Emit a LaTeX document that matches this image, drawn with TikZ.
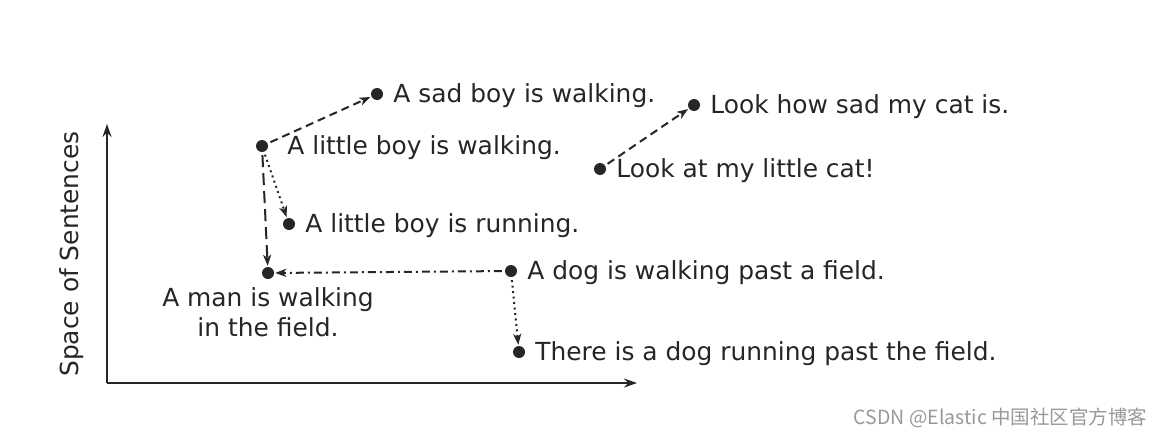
\documentclass[tikz,border=0pt]{standalone}
\usepackage{fontspec}
\setmainfont{DejaVu Sans}
\newfontfamily\cjk{Noto Sans CJK SC}
\usepackage{tikz}
\usetikzlibrary{arrows,arrows.meta}
\definecolor{ink}{HTML}{262626}

\tikzset{
    dot/.style={circle,fill=ink,inner sep=0pt,minimum size=12pt},
    sentence/.style={font=\fontsize{24.9}{30}\selectfont,text=ink,inner sep=0pt,label distance=10pt},
    axis/.style={line width=2pt,ink,-{Stealth[length=13pt,width=9pt]}},
    move/.style={line width=2pt,ink,-{Stealth[length=11pt,width=8pt,inset=3pt]},shorten <=3pt,shorten >=1pt},
    dashedmove/.style={move,dash pattern=on 8pt off 5pt},
    dottedmove/.style={move,dash pattern=on 2pt off 3.5pt}
}

\begin{document}
\begin{tikzpicture}[x=1pt,y=-1pt]
    \useasboundingbox[fill=white] (0,0) rectangle (1166,439);
    \draw[axis] (107,383) coordinate (o) -- (107,124) coordinate (ytop);
    \draw[axis] (o) -- (637,383) coordinate (xend);
    \node[sentence,rotate=90] (yaxis) at (72,254) {Space of Sentences};
    \node[dot,label={[sentence,yshift=-2pt]right:A sad boy is walking.}] (sad) at (377,94) {};
    \node[dot,label={[sentence,yshift=-2pt,label distance=19pt]right:A little boy is walking.}] (walk) at (262,146) {};
    \node[dot,label={[sentence,yshift=-2pt]right:A little boy is running.}] (run) at (289,224) {};
    \node[dot,label={[sentence,align=center,label distance=8pt]below:A man is walking\\in the field.}] (man) at (268,273) {};
    \node[dot,label={[sentence,yshift=-2pt]right:A dog is walking past a field.}] (dog) at (511,271) {};
    \node[dot,label={[sentence,yshift=-2pt]right:There is a dog running past the field.}] (dogrun) at (519,352) {};
    \node[dot,label={[sentence,yshift=-2pt]right:Look at my little cat!}] (cat) at (600,169) {};
    \node[dot,label={[sentence,yshift=-2pt]right:Look how sad my cat is.}] (sadcat) at (694,105) {};
    \draw[dashedmove] (walk) -- (sad);
    \draw[dottedmove] (walk) -- (run);
    \draw[move,dash pattern=on 12pt off 6pt] (walk) -- (man);
    \draw[move,dash pattern=on 8pt off 4pt on 2pt off 4pt] (dog) -- (man);
    \draw[dottedmove] (dog) -- (dogrun);
    \draw[dashedmove] (cat) -- (sadcat);
    \node[anchor=east,text=black!40,font=\cjk\fontsize{19.5}{22}\selectfont] (mark) at (1151,418) {CSDN @Elastic 中国社区官方博客};
\end{tikzpicture}
\end{document}
